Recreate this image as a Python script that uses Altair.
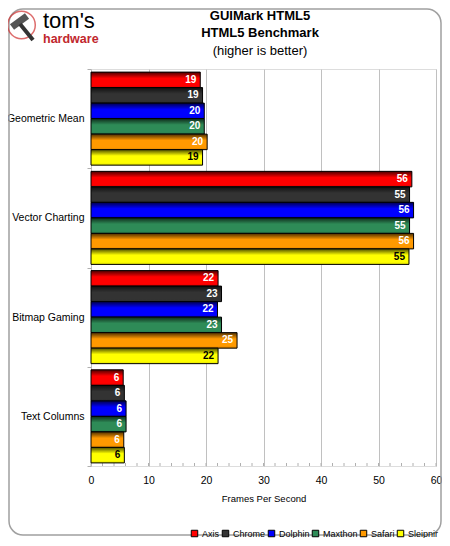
import altair as alt
import pandas as pd

CATEGORIES = ["Geometric Mean", "Vector Charting", "Bitmap Gaming", "Text Columns"]
SERIES = ["Axis", "Chrome", "Dolphin", "Maxthon", "Safari", "Sleipnir"]
COLORS = ["#ff0000", "#333333", "#0000ff", "#2e8b57", "#ff9900", "#ffff00"]

AXIS = [19.0, 55.8, 22.1, 5.6]
CHROME = [19.4, 55.4, 22.7, 5.8]
DOLPHIN = [19.7, 56.1, 22.0, 6.1]
MAXTHON = [19.7, 55.4, 22.7, 6.1]
SAFARI = [20.2, 56.1, 25.4, 5.7]
SLEIPNIR = [19.4, 55.3, 22.1, 5.8]

X_TICKS = [0, 10, 20, 30, 40, 50, 60]
MINOR_TICKS = [0, 2, 4, 6, 8, 10, 12, 14, 16, 18, 20, 22, 24, 26, 28, 30,
               32, 34, 36, 38, 40, 42, 44, 46, 48, 50, 52, 54, 56, 58, 60]

values = [AXIS, CHROME, DOLPHIN, MAXTHON, SAFARI, SLEIPNIR]
rows = []
for s, vals in zip(SERIES, values):
    for c, v in zip(CATEGORIES, vals):
        rows.append({"category": c, "series": s, "value": v})
df = pd.DataFrame(rows)

W, H = 345, 397
FONT = "Liberation Sans, Arial"

y_enc = alt.Y("category:N", sort=CATEGORIES, title=None,
              scale=alt.Scale(paddingInner=0, paddingOuter=0),
              axis=alt.Axis(tickBand="extent", tickSize=4, tickColor="#b0b0b0",
                            domain=False, labelPadding=3, labelFont=FONT,
                            labelFontSize=10.5, labelColor="black"))
yoff = alt.YOffset("series:N", sort=SERIES,
                   scale=alt.Scale(paddingInner=0, paddingOuter=0.2))
x_enc = alt.X("value:Q", title="Frames Per Second",
              scale=alt.Scale(domain=[0, 60], nice=False),
              axis=alt.Axis(values=X_TICKS, grid=True, gridColor="#c0c0c0",
                            domain=False, ticks=True, tickSize=0, labelFlush=False,
                            labelPadding=9, labelFont=FONT, labelFontSize=10.5,
                            labelColor="black", titleFont=FONT, titleFontSize=9.5,
                            titleFontWeight="normal", titleColor="black",
                            titlePadding=8))

base = alt.Chart(df).encode(y=y_enc, yOffset=yoff, x=x_enc)

bars = base.mark_bar(stroke="black", strokeWidth=1).encode(
    color=alt.Color("series:N", sort=SERIES,
                    scale=alt.Scale(domain=SERIES, range=COLORS),
                    legend=alt.Legend(title=None, orient="none", direction="horizontal",
                                      legendX=99, legendY=460, symbolType="square",
                                      symbolSize=42, symbolStrokeColor="black",
                                      symbolStrokeWidth=1, labelFont=FONT,
                                      labelFontSize=9, labelColor="black",
                                      labelOffset=3, columnPadding=0,
                                      gridAlign="none", padding=0))
)

shade_grad = alt.Gradient(
    gradient="linear", x1=0, x2=0, y1=0, y2=1,
    stops=[alt.GradientStop(offset=0, color="rgba(0,0,0,0.7)"),
           alt.GradientStop(offset=0.4, color="rgba(0,0,0,0)"),
           alt.GradientStop(offset=0.85, color="rgba(0,0,0,0)"),
           alt.GradientStop(offset=1, color="rgba(0,0,0,0.12)")])
shade = base.mark_bar(color=shade_grad, strokeWidth=0)

labels = base.mark_text(align="right", baseline="middle", dx=-4, font=FONT,
                        fontSize=10, fontWeight="bold").encode(
    text=alt.Text("value:Q", format=".0f"),
    color=alt.condition(alt.datum.series == "Sleipnir", alt.value("black"),
                        alt.value("white")))

minor = alt.Chart(pd.DataFrame({"t": MINOR_TICKS})).mark_rule(
    color="#b0b0b0", strokeWidth=1).encode(
    x=alt.X("t:Q", scale=alt.Scale(domain=[0, 60], nice=False)),
    y=alt.value(H - 3), y2=alt.value(H))

deco = pd.DataFrame({"a": [0]})
border = alt.Chart(deco).mark_rect(fill=None, stroke="#a0a0a0", strokeWidth=1.5,
                                   cornerRadius=14).encode(
    x=alt.value(-82), x2=alt.value(350), y=alt.value(-60), y2=alt.value(466))

def txt(text, x, y, size, weight="normal", color="black", align="center", baseline="middle"):
    return alt.Chart(deco).mark_text(text=text, font=FONT, fontSize=size,
                                     fontWeight=weight, color=color, align=align,
                                     baseline=baseline).encode(
        x=alt.value(x), y=alt.value(y))

t1 = txt("GUIMark HTML5", 169, -53, 13, "bold")
t2 = txt("HTML5 Benchmark", 169, -36, 13, "bold")
t3 = txt("(higher is better)", 169, -18, 13)
logo1 = txt("tom's", -48, -41.5, 22, "normal", "black", "left", "alphabetic")
logo2 = txt("hardware", -48, -26, 12.5, "bold", "#c1272d", "left", "alphabetic")
circle = alt.Chart(deco).mark_point(shape="circle", filled=False, color="#d03030",
                                    strokeWidth=1.5, size=760).encode(
    x=alt.value(-69.5), y=alt.value(-44))
handle = alt.Chart(deco).mark_rule(color="#333333", strokeWidth=4).encode(
    x=alt.value(-71), x2=alt.value(-58), y=alt.value(-45), y2=alt.value(-29))
head = alt.Chart(deco).mark_rule(color="#555555", strokeWidth=7).encode(
    x=alt.value(-79), x2=alt.value(-64), y=alt.value(-42), y2=alt.value(-53))

chart = alt.layer(border, minor, bars, shade, labels, t1, t2, t3,
                  circle, head, handle, logo1, logo2).properties(
    width=W, height=H,
    autosize=alt.AutoSizeParams(type="none"),
    padding={"left": 83, "top": 61, "right": 6, "bottom": 72},
).configure_view(stroke="#b0b0b0", strokeWidth=1).configure(background="white")

chart.save("out.html", embed_options={"renderer": "svg", "actions": False})
